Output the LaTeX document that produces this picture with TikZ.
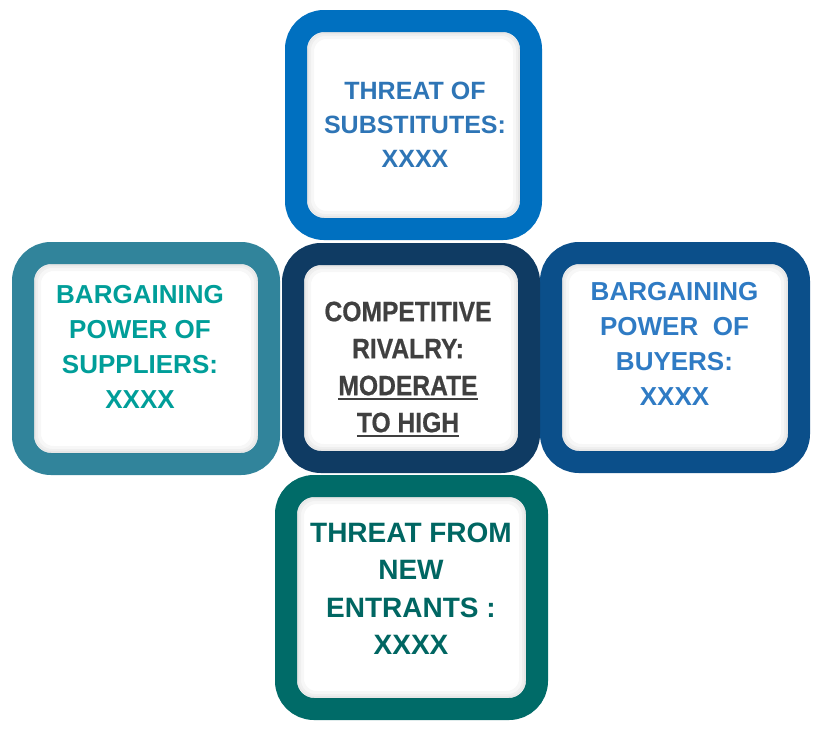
\documentclass[tikz,border=0pt]{standalone}
\usepackage{fontspec}
\setmainfont{Liberation Sans}
\newfontfamily\narrowfont[FakeStretch=0.88,FakeBold=0.6]{Liberation Sans}
\usetikzlibrary{backgrounds}
\definecolor{subsedge}{HTML}{0070C0}
\definecolor{subsink}{HTML}{2E75B6}
\definecolor{suppedge}{HTML}{31849B}
\definecolor{suppink}{HTML}{009E99}
\definecolor{rivaledge}{HTML}{0F3B63}
\definecolor{rivalink}{HTML}{404040}
\definecolor{buyedge}{HTML}{0B4F8A}
\definecolor{buyink}{HTML}{2F7BC4}
\definecolor{entredge}{HTML}{006B68}
\definecolor{entrink}{HTML}{006662}
%% 粗底線
\newcommand{\thickul}[1]{\setbox0\hbox{#1}\leavevmode
  \rlap{\vrule height -3.2pt depth 5.2pt width \wd0}\box0}

\begin{document}
\begin{tikzpicture}[x=1pt, y=-1pt,
    forcebox/.style={draw=#1, line width=22pt, rounded corners=28pt,
                     fill=white, inner sep=0pt},
    forcetext/.style={text=#1, align=center, inner sep=0pt,
                      font=\fontsize{26}{35}\selectfont\bfseries}]

%% ==== 頁面範圍 =======================================================
\fill[white] (0,0) rectangle (833,744);
\useasboundingbox (0,0) rectangle (833,744);

%% ==== 五個方框 =======================================================
\node[forcebox=subsedge,  minimum width=235pt, minimum height=208pt] (subs)  at (413.5,125)   {};
\node[forcebox=suppedge,  minimum width=246pt, minimum height=211pt] (supp)  at (146,358.5)   {};
\node[forcebox=buyedge,   minimum width=248pt, minimum height=209pt] (buy)   at (675,357.5)   {};
\node[forcebox=entredge,  minimum width=251pt, minimum height=223pt] (entr)  at (411.5,597.5) {};
\node[forcebox=rivaledge, minimum width=236pt, minimum height=208pt] (rival) at (411,358)     {};

%% 陰影: 外側往右下, 內側沿白底邊緣
\begin{scope}[on background layer]
  \foreach \n in {subs,supp,buy,entr,rival}
    \foreach \d in {0pt,2pt,4pt,6pt}
      \fill[black, opacity=0.07, rounded corners=40pt]
        ([shift={(4pt-\d,-4pt-\d)}]\n.south west) rectangle
        ([shift={(4pt+\d,-4pt+\d)}]\n.north east);
\end{scope}
\foreach \n in {subs,supp,buy,entr,rival}
  \foreach \w in {2pt,4pt,7pt}
    \draw[black, opacity=0.03, line width=\w, rounded corners=16pt]
      ([shift={(22pt+\w/2,22pt+\w/2)}]\n.south west) rectangle
      ([shift={(-22pt-\w/2,-22pt-\w/2)}]\n.north east);

%% ==== 文字 ===========================================================
\node[forcetext=subsink, font=\fontsize{25}{34}\selectfont\bfseries] (subs-txt)
  at (415,125) {THREAT OF\\SUBSTITUTES:\\XXXX};
\node[forcetext=suppink] (supp-txt) at (140,346.5)
  {BARGAINING\\POWER OF\\SUPPLIERS:\\XXXX};
\node[forcetext=buyink] (buy-txt) at (674.5,343.5)
  {BARGAINING\\POWER~~OF\\BUYERS:\\XXXX};
\node[forcetext=entrink, font=\fontsize{28}{37.5}\selectfont\bfseries] (entr-txt)
  at (411,588.5) {THREAT FROM\\NEW\\ENTRANTS :\\XXXX};
\node[forcetext=rivalink, font=\fontsize{28}{37}\selectfont\bfseries\narrowfont] (rival-txt)
  at (408,369.5) {COMPETITIVE\\RIVALRY:\\\thickul{MODERATE}\\\thickul{TO HIGH}};

\end{tikzpicture}
\end{document}
